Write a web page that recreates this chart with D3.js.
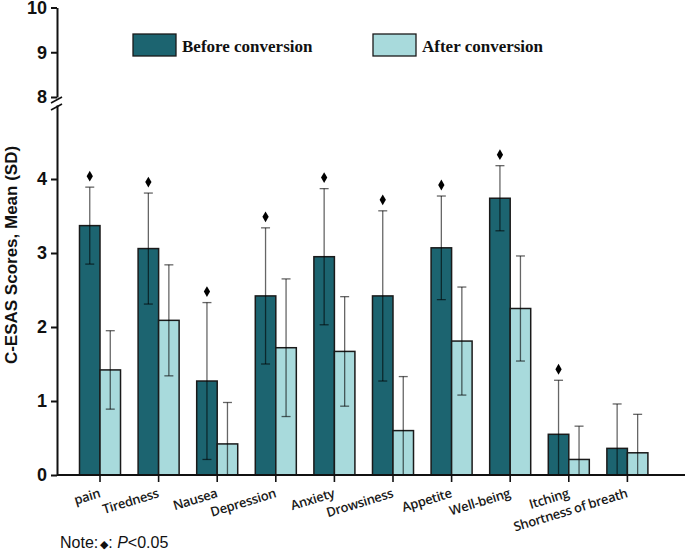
<!DOCTYPE html>
<html lang="en">
<head>
    <meta charset="UTF-8">
    <title>C-ESAS Scores before and after conversion</title>
    <script src="https://d3js.org/d3.v7.min.js"></script>
    <style>
        body { margin: 0; background: #fff; }
        svg { display: block; }
    </style>
</head>
<body>

<script>

    // Data
    var categories = ["pain", "Tiredness", "Nausea", "Depression", "Anxiety", "Drowsiness", "Appetite", "Well-being", "Itching", "Shortness of breath"];
    var beforeMean = [3.37, 3.06, 1.27, 2.42, 2.95, 2.42, 3.07, 3.74, 0.55, 0.36];
    var beforeSD   = [0.52, 0.75, 1.06, 0.92, 0.92, 1.15, 0.70, 0.44, 0.73, 0.60];
    var afterMean  = [1.42, 2.09, 0.42, 1.72, 1.67, 0.60, 1.81, 2.25, 0.21, 0.30];
    var afterSD    = [0.53, 0.75, 0.56, 0.93, 0.74, 0.73, 0.73, 0.71, 0.45, 0.52];
    var significant = [true, true, true, true, true, true, true, true, true, false];
    var seriesNames = ["Before conversion", "After conversion"];
    var lowerTicks = [0, 1, 2, 3, 4];
    var upperTicks = [8, 9, 10];

    var width = 685;
    var height = 551;
    var axisX = 57;
    var baseY = 475;

    var colors = { before: "#1c6470", after: "#a8dadc" };

    var svg = d3.select("body").append("svg")
        .attr("width", width)
        .attr("height", height);

    // broken y axis: two linear scales
    var yLow = d3.scaleLinear().domain([0, 5]).range([baseY, 105]);
    var yHigh = d3.scaleLinear().domain([8, 10]).range([97, 7.5]);

    var x = d3.scaleBand()
        .domain(categories)
        .range([axisX, 670.4])
        .paddingInner(0.3)
        .paddingOuter(0.384);

    var xSub = d3.scaleBand()
        .domain(["before", "after"])
        .range([0, x.bandwidth()]);

    var rows = categories.map(function(c, i) {
        return {
            name: c,
            sig: significant[i],
            bars: [
                { key: "before", mean: beforeMean[i], sd: beforeSD[i] },
                { key: "after", mean: afterMean[i], sd: afterSD[i] }
            ]
        };
    });

    var groups = svg.append("g")
        .selectAll("g")
        .data(rows)
        .enter().append("g")
        .attr("transform", function(d) { return "translate(" + x(d.name) + ",0)"; });

    // bars
    groups.selectAll("rect")
        .data(function(d) { return d.bars; })
        .enter().append("rect")
        .attr("x", function(d) { return xSub(d.key); })
        .attr("y", function(d) { return yLow(d.mean); })
        .attr("width", xSub.bandwidth())
        .attr("height", function(d) { return baseY - yLow(d.mean); })
        .style("fill", function(d) { return colors[d.key]; })
        .style("stroke", "#1a1a1a")
        .style("stroke-width", 1.5);

    // error bars
    var capW = 9;
    var err = groups.selectAll("g.err")
        .data(function(d) { return d.bars; })
        .enter().append("g")
        .attr("class", "err")
        .attr("transform", function(d) { return "translate(" + (xSub(d.key) + xSub.bandwidth() / 2) + ",0)"; })
        .style("stroke", "rgba(0,0,0,0.6)")
        .style("stroke-width", 1.3);

    err.append("line")
        .attr("y1", function(d) { return yLow(d.mean + d.sd); })
        .attr("y2", function(d) { return yLow(Math.max(0, d.mean - d.sd)); });

    err.append("line")
        .attr("x1", -capW / 2)
        .attr("x2", capW / 2)
        .attr("y1", function(d) { return yLow(d.mean + d.sd); })
        .attr("y2", function(d) { return yLow(d.mean + d.sd); });

    err.filter(function(d) { return d.mean - d.sd > 0; })
        .append("line")
        .attr("x1", -capW / 2)
        .attr("x2", capW / 2)
        .attr("y1", function(d) { return yLow(d.mean - d.sd); })
        .attr("y2", function(d) { return yLow(d.mean - d.sd); });

    // significance marks
    groups.filter(function(d) { return d.sig; })
        .append("path")
        .attr("d", d3.symbol().type(d3.symbolDiamond).size(34))
        .attr("transform", function(d) {
            var b = d.bars[0];
            return "translate(" + (xSub("before") + xSub.bandwidth() / 2) + "," + (yLow(b.mean + b.sd) - 11) + ")";
        })
        .style("fill", "#000");

    // x axis
    var xAxis = svg.append("g")
        .attr("transform", "translate(0," + baseY + ")")
        .call(d3.axisBottom(x).tickSize(7).tickSizeOuter(0).tickFormat(""));
    xAxis.select(".domain").remove();
    xAxis.selectAll(".tick line").style("stroke", "#111").style("stroke-width", 1.6);
    svg.append("line")
        .attr("x1", axisX).attr("x2", width)
        .attr("y1", baseY).attr("y2", baseY)
        .style("stroke", "#111").style("stroke-width", 2);

    svg.append("g")
        .selectAll("text")
        .data(categories)
        .enter().append("text")
        .attr("transform", function(d) { return "translate(" + (x(d) + x.bandwidth() / 2 + 1) + ",497) rotate(-17)"; })
        .attr("text-anchor", "end")
        .style("font-family", "'Open Sans', sans-serif")
        .style("font-weight", 600)
        .style("font-size", "13px")
        .style("letter-spacing", "-0.3px")
        .style("fill", "#1a1a1a")
        .text(function(d) { return d; });

    // y axes (lower and upper parts)
    function styleAxis(g) {
        g.select(".domain").style("stroke", "#111").style("stroke-width", 2);
        g.selectAll(".tick line").style("stroke", "#111").style("stroke-width", 2);
        g.selectAll(".tick text")
            .style("font-family", "'Liberation Sans', Arial, sans-serif")
            .style("font-weight", "bold")
            .style("font-size", "18px")
            .style("fill", "#111");
    }

    svg.append("g")
        .attr("transform", "translate(" + axisX + ",0)")
        .call(d3.axisLeft(yLow).tickValues(lowerTicks).tickFormat(d3.format("d")).tickSize(6).tickSizeOuter(0).tickPadding(4))
        .call(styleAxis);

    svg.append("g")
        .attr("transform", "translate(" + axisX + ",0)")
        .call(d3.axisLeft(yHigh).tickValues(upperTicks).tickFormat(d3.format("d")).tickSize(6).tickSizeOuter(0).tickPadding(4))
        .call(styleAxis);

    // axis break marks
    svg.append("g")
        .selectAll("line")
        .data([100, 107])
        .enter().append("line")
        .attr("x1", axisX - 6).attr("x2", axisX + 5)
        .attr("y1", function(d) { return d + 3; })
        .attr("y2", function(d) { return d - 3; })
        .style("stroke", "#111")
        .style("stroke-width", 1.6);

    svg.append("text")
        .attr("transform", "translate(17,255) rotate(-90)")
        .attr("text-anchor", "middle")
        .style("font-family", "'Liberation Sans', Arial, sans-serif")
        .style("font-weight", "bold")
        .style("font-size", "17px")
        .style("fill", "#111")
        .text("C-ESAS Scores, Mean (SD)");

    // legend
    var legend = svg.append("g")
        .selectAll("g")
        .data(seriesNames)
        .enter().append("g")
        .attr("transform", function(d, i) { return "translate(" + (133 + i * 240) + ",34)"; });

    legend.append("rect")
        .attr("width", 43)
        .attr("height", 22)
        .style("fill", function(d, i) { return i === 0 ? colors.before : colors.after; })
        .style("stroke", "#1a1a1a")
        .style("stroke-width", 1.3);

    legend.append("text")
        .attr("x", 49)
        .attr("y", 17.5)
        .style("font-family", "'Liberation Serif', 'Times New Roman', serif")
        .style("font-weight", "bold")
        .style("font-size", "17px")
        .style("fill", "#111")
        .text(function(d) { return d; });

    // note
    var note = svg.append("text")
        .attr("x", 60)
        .attr("y", 548)
        .style("font-family", "'Liberation Sans', Arial, sans-serif")
        .style("font-size", "16px")
        .style("fill", "#111");
    note.append("tspan").text("Note:");
    note.append("tspan").style("font-size", "11px").attr("dx", 2).text("\u25C6");
    note.append("tspan").text(":  ");
    note.append("tspan").style("font-style", "italic").text("P");
    note.append("tspan").text("<0.05");

</script>

</body>
</html>
